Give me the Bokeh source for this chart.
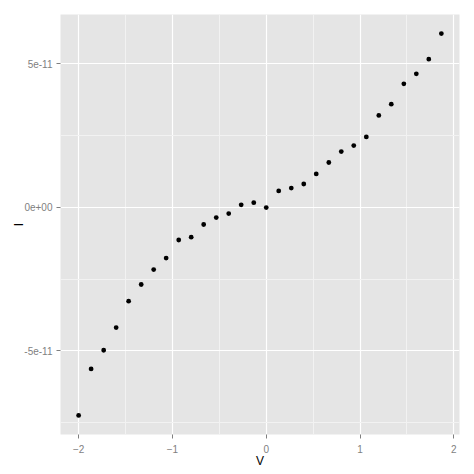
from bokeh.embed import file_html
from bokeh.models import FixedTicker, Range1d
from bokeh.plotting import figure
from bokeh.resources import INLINE

# Voltage sweep (V) and measured current (I, amperes)
V = [-2.0, -1.867, -1.733, -1.6, -1.467, -1.333, -1.2, -1.067, -0.933, -0.8,
     -0.667, -0.533, -0.4, -0.267, -0.133, 0.0, 0.133, 0.267, 0.4, 0.533,
     0.667, 0.8, 0.933, 1.067, 1.2, 1.333, 1.467, 1.6, 1.733, 1.867]
I = [-7.25e-11, -5.63e-11, -4.98e-11, -4.19e-11, -3.27e-11, -2.69e-11, -2.17e-11,
     -1.77e-11, -1.14e-11, -1.04e-11, -6.0e-12, -3.6e-12, -2.2e-12, 0.85e-12,
     1.6e-12, -0.1e-12, 5.7e-12, 6.7e-12, 8.1e-12, 1.16e-11, 1.56e-11, 1.94e-11,
     2.15e-11, 2.45e-11, 3.20e-11, 3.59e-11, 4.30e-11, 4.65e-11, 5.16e-11, 6.05e-11]

X_TICKS = [-2, -1, 0, 1, 2]
X_MINOR = [-1.5, -0.5, 0.5, 1.5]
Y_TICKS = [-5e-11, 0.0, 5e-11]
Y_MINOR = [-7.5e-11, -2.5e-11, 2.5e-11]
Y_LABELS = {-5e-11: "-5e-11", 0.0: "0e+00", 5e-11: "5e-11"}

FONT = "Liberation Sans"


def expand(vals, frac=0.05):
    # ggplot-style 5% padding around the data
    lo, hi = min(vals), max(vals)
    pad = (hi - lo) * frac
    return lo - pad, hi + pad


x0, x1 = expand(V)
y0, y1 = expand(I)

p = figure(frame_width=399, frame_height=420, output_backend="svg",
           toolbar_location=None, tools="",
           x_range=Range1d(x0, x1), y_range=Range1d(y0, y1),
           background_fill_color="#E5E5E5", border_fill_color="white",
           min_border_top=14, min_border_right=12, min_border_left=60,
           min_border_bottom=10)
p.outline_line_color = None

p.scatter(V, I, size=4.8, fill_color="black", line_color=None)

p.xaxis.ticker = FixedTicker(ticks=X_TICKS, minor_ticks=X_MINOR)
p.yaxis.ticker = FixedTicker(ticks=Y_TICKS, minor_ticks=Y_MINOR)
p.yaxis.major_label_overrides = Y_LABELS
p.xaxis.axis_label = "V"
p.yaxis.axis_label = "I"

for ax in (p.xaxis, p.yaxis):
    ax.axis_line_color = None
    ax.major_tick_line_color = "#7F7F7F"
    ax.major_tick_in = 0
    ax.major_tick_out = 4
    ax.minor_tick_line_color = None
    ax.major_label_text_font = FONT
    ax.major_label_text_font_size = "10px"
    ax.major_label_text_color = "#7F7F7F"
    ax.axis_label_text_font = FONT
    ax.axis_label_text_font_size = "12px"
    ax.axis_label_text_font_style = "normal"
    ax.axis_label_text_color = "black"

p.xaxis.major_label_standoff = 6
p.xaxis.axis_label_standoff = -2
p.yaxis.major_label_standoff = 4
p.yaxis.axis_label_standoff = -5

p.grid.grid_line_color = "white"
p.grid.grid_line_width = 1.2
p.grid.minor_grid_line_color = "#F2F2F2"
p.grid.minor_grid_line_width = 1

open("out.html", "w").write(file_html(p, INLINE))
